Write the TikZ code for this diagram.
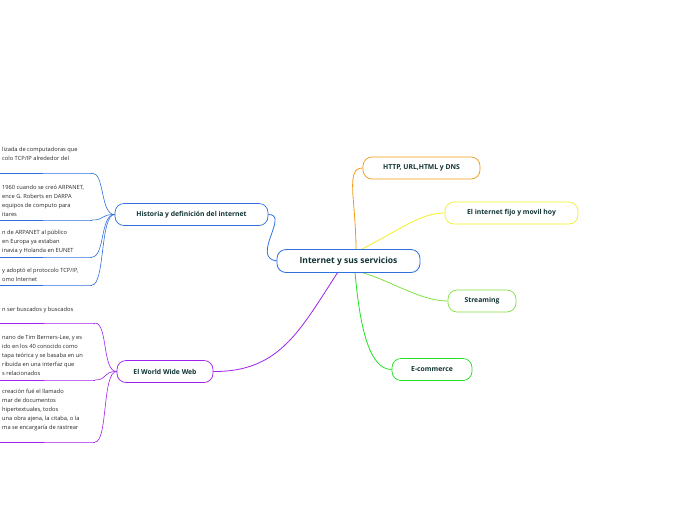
\documentclass[tikz,border=0pt]{standalone}
\usepackage{fontspec}
\setmainfont{Open Sans}
\definecolor{cblue}{HTML}{2F6FE0}
\definecolor{cpurp}{HTML}{A020F0}
\definecolor{corange}{HTML}{F59A10}
\definecolor{cyell}{HTML}{F2F020}
\definecolor{clgreen}{HTML}{80E040}
\definecolor{cgreen}{HTML}{20E020}
\definecolor{ctext}{HTML}{113333}
\begin{document}
\begin{tikzpicture}[x=1pt,y=-1pt,
 main/.style={draw,rounded corners=9pt,line width=0.8pt,fill=white,minimum height=23pt,inner xsep=8pt,font=\bfseries\fontsize{8.5}{10}\selectfont,text=ctext},
 sub/.style={draw,rounded corners=9pt,line width=0.7pt,fill=white,minimum height=22pt,inner xsep=8pt,font=\bfseries\fontsize{6.8}{8}\selectfont,text=ctext},
 leaf/.style={anchor=south west,align=left,inner sep=0pt,font=\fontsize{5.7}{9}\selectfont,text=black!85},
 con/.style={line width=0.8pt}]
\useasboundingbox (0,0) rectangle (696,520);
\clip (0,0) rectangle (696,520);
\node[sub,draw=cblue,minimum width=153pt] (h) at (191.5,214.5) {Historia y definición del internet};
\node[sub,draw=cpurp,minimum width=96pt] (w) at (165,371.5) {El World Wide Web};
\node[sub,draw=corange,minimum width=117pt] (t) at (421.5,168) {HTTP, URL,HTML y DNS};
\node[sub,draw=cyell,minimum width=133pt] (f) at (511.5,213) {El internet fijo y movil hoy};
\node[sub,draw=clgreen,minimum width=68pt] (s) at (482,301) {Streaming};
\node[sub,draw=cgreen,minimum width=80pt] (e) at (432,369.5) {E-commerce};
\coordinate (cwst) at (277,261);
\draw[con,cblue] (cwst) .. controls (250,258) and (290,214) .. (h.east);
\draw[con,cpurp] (338,272) .. controls (300,330) and (280,372) .. (w.east);
\draw[con,corange] (356,250) .. controls (356,200) and (345,168) .. (t.west);
\draw[con,cyell] (360,250) .. controls (400,230) and (420,213) .. (f.west);
\draw[con,clgreen] (360,272) .. controls (390,280) and (420,301) .. (s.west);
\draw[con,cgreen] (355,272) .. controls (360,330) and (370,369.5) .. (e.west);
\node[main,draw=cblue,minimum width=143pt] (c) at (348.5,261) {Internet y sus servicios};
% history leaves
\foreach \y in {173,220,257,285}{
 \coordinate (hl\y) at (92,\y);
 \draw[cblue,line width=0.7pt] (0,\y) -- (85,\y) .. controls (90,\y) .. (hl\y);
 \draw[cblue,line width=0.6pt] (hl\y) .. controls (105,\y) and (100,214.5) .. (h.west);
}
\node[leaf] at (2,161) {lizada de computadoras que\\colo TCP/IP alrededor del};
\node[leaf] at (2,217) {1960 cuando se creó ARPANET,\\ence G. Roberts en DARPA\\ equipos de computo para\\itares};
\node[leaf] at (2,254) {n de ARPANET al público\\en Europa ya estaban\\inavia y Holanda en EUNET};
\node[leaf] at (2,282) {y adoptó el protocolo TCP/IP,\\omo Internet};
% www leaves
\foreach \y in {323,380,442}{
 \coordinate (wl\y) at (95,\y);
 \draw[cpurp,line width=0.7pt] (0,\y) -- (88,\y) .. controls (93,\y) .. (wl\y);
 \draw[cpurp,line width=0.6pt] (wl\y) .. controls (108,\y) and (102,371.5) .. (w.west);
}
\node[leaf] at (2,313) {n ser buscados y buscados};
\node[leaf] at (2,376) {nano de Tim Berners-Lee, y es\\ido en los 40 conocido como\\tapa teórica y se basaba en un\\ribuida en una interfaz que\\s relacionados};
\node[leaf] at (2,431) {creación fué el llamado\\mar de documentos\\hipertextuales, todos\\una obra ajena, la citaba, o la\\ma se encargaría de rastrear};
\end{tikzpicture}
\end{document}
